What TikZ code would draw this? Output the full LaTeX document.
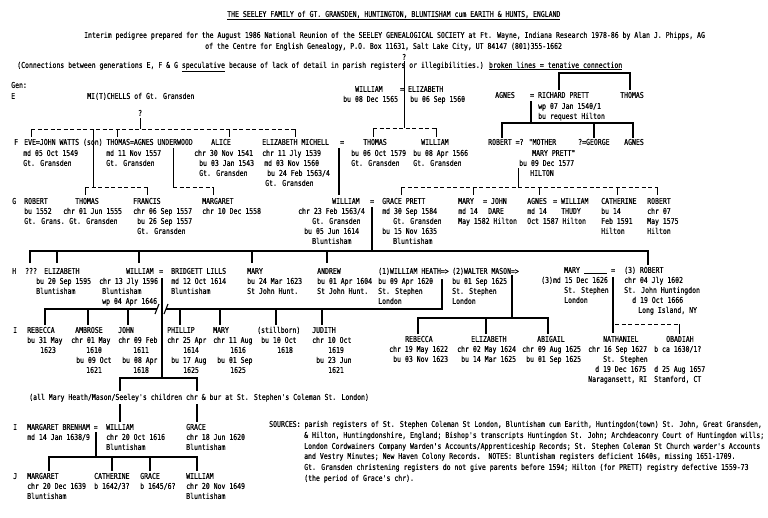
\documentclass[tikz,border=0pt]{standalone}
\usepackage{fontspec}
\newfontfamily\mono[FakeStretch=0.814,FakeBold=0.35]{DejaVu Sans Mono}
\newcount\tcnt
\def\Tx(#1,#2)#3{\global\advance\tcnt by 1\relax\node[tx] (t\the\tcnt) at (#1,#2) {#3};}
\begin{document}
\begin{tikzpicture}[x=1pt,y=-1pt,
  tx/.style={font=\mono\fontsize{8}{9}\selectfont, inner sep=0pt, anchor=west, text height=5.8pt, text depth=0pt},
  thk/.style={line width=2.4pt},
  thinl/.style={line width=0.8pt},
  dsh/.style={line width=0.8pt, dash pattern=on 4pt off 2.5pt},
  slash/.style={line width=1.1pt}]
\path[fill=white] (0,0) rectangle (768,517);
\useasboundingbox (0,0) rectangle (768,517);
% ---------------- header
\Tx(227,14){\underline{THE SEELEY FAMILY of GT. GRANSDEN, HUNTINGTON, BLUNTISHAM cum EARITH \& HUNTS, ENGLAND}}
\Tx(84,35){Interim pedigree prepared for the August 1986 National Reunion of the SEELEY GENEALOGICAL SOCIETY at Ft. Wayne, Indiana Research 1978-86 by Alan J. Phipps, AG}
\Tx(205,46){of the Centre for English Genealogy, P.O. Box 11631, Salt Lake City, UT 84147 (801)355-1662}
\Tx(17,65){(Connections between generations E, F \& G \underline{speculative} because of lack of detail in parish registers or illegibilities.) \underline{broken lines = tenative connection}}
% ---------------- E
\Tx(11,85){Gen:}
\Tx(11,96){E}
\Tx(87,96){MI(T)CHELLS of Gt. Gransden}
\Tx(138,113){?}
\Tx(402,57){?}
\Tx(355,89){WILLIAM}
\Tx(400,89){= ELIZABETH}
\Tx(343,99){bu 08 Dec 1565}
\Tx(410,99){bu 06 Sep 1560}
\Tx(495,95){AGNES}
\Tx(530,95){= RICHARD PRETT}
\Tx(538,106){wp 07 Jan 1540/1}
\Tx(538,116){bu request Hilton}
\Tx(620,95){THOMAS}
% ---------------- F
\Tx(14,142){F}
\Tx(24,142){EVE=JOHN WATTS (son) THOMAS=AGNES UNDERWOOD}
\Tx(23,153){md 05 Oct 1549}
\Tx(23,163){Gt. Gransden}
\Tx(106,153){md 11 Nov 1557}
\Tx(106,163){Gt. Gransden}
\Tx(211,142){ALICE}
\Tx(194,153){chr 30 Nov 1541}
\Tx(199,163){bu 03 Jan 1543}
\Tx(199,173){Gt. Gransden}
\Tx(262,142){ELIZABETH MICHELL}
\Tx(262,153){chr 11 Jly 1539}
\Tx(264,163){md 03 Nov 1560}
\Tx(267,173){bu 24 Feb 1563/4}
\Tx(265,183){Gt. Gransden}
\Tx(340,142){=}
\Tx(363,142){THOMAS}
\Tx(351,153){bu 06 Oct 1579}
\Tx(351,163){Gt. Gransden}
\Tx(421,142){WILLIAM}
\Tx(413,153){bu 08 Apr 1566}
\Tx(413,163){Gt. Gransden}
\Tx(488,142){ROBERT =? "MOTHER}
\Tx(532,153){MARY PRETT"}
\Tx(519,163){bu 09 Dec 1577}
\Tx(530,173){HILTON}
\Tx(578,142){?=GEORGE}
\Tx(624,142){AGNES}
% ---------------- G
\Tx(12,201){G}
\Tx(24,201){ROBERT}
\Tx(24,211){bu 1552}
\Tx(24,221){Gt. Grans.}
\Tx(75,201){THOMAS}
\Tx(63,211){chr 01 Jun 1555}
\Tx(69,221){Gt. Gransden}
\Tx(133,201){FRANCIS}
\Tx(133,211){chr 06 Sep 1557}
\Tx(137,221){bu 26 Sep 1557}
\Tx(137,231){Gt. Gransden}
\Tx(202,201){MARGARET}
\Tx(202,211){chr 10 Dec 1558}
\Tx(332,201){WILLIAM}
\Tx(370,201){=}
\Tx(382,201){GRACE PRETT}
\Tx(298,211){chr 23 Feb 1563/4}
\Tx(312,221){Gt. Gransden}
\Tx(304,231){bu 05 Jun 1614}
\Tx(312,241){Bluntisham}
\Tx(382,211){md 30 Sep 1584}
\Tx(393,221){Gt. Gransden}
\Tx(382,231){bu 15 Nov 1635}
\Tx(393,241){Bluntisham}
\Tx(458,201){MARY}
\Tx(483,201){= JOHN}
\Tx(458,211){md 14}
\Tx(488,211){DARE}
\Tx(458,221){May 1582 Hilton}
\Tx(527,201){AGNES}
\Tx(553,201){= WILLIAM}
\Tx(527,211){md 14}
\Tx(561,211){THUDY}
\Tx(527,221){Oct 1587 Hilton}
\Tx(601,201){CATHERINE}
\Tx(601,211){bu 14}
\Tx(601,221){Feb 1591}
\Tx(601,231){Hilton}
\Tx(647,201){ROBERT}
\Tx(647,211){chr 07}
\Tx(647,221){May 1575}
\Tx(647,231){Hilton}
% ---------------- H
\Tx(12,271){H}
\Tx(25,271){???}
\Tx(44,271){ELIZABETH}
\Tx(36,281){bu 20 Sep 1595}
\Tx(36,291){Bluntisham}
\Tx(126,271){WILLIAM}
\Tx(159,271){=}
\Tx(171,271){BRIDGETT LILLS}
\Tx(99,281){chr 13 Jly 1596}
\Tx(102,291){Bluntisham}
\Tx(102,301){wp 04 Apr 1646}
\Tx(171,281){md 12 Oct 1614}
\Tx(171,291){Bluntisham}
\Tx(247,271){MARY}
\Tx(247,281){bu 24 Mar 1623}
\Tx(247,291){St John Hunt.}
\Tx(317,271){ANDREW}
\Tx(317,281){bu 01 Apr 1604}
\Tx(317,291){St John Hunt.}
\Tx(378,271){(1)WILLIAM HEATH=>}
\Tx(378,281){bu 09 Apr 1620}
\Tx(378,291){St. Stephen}
\Tx(378,301){London}
\Tx(452,271){(2)WALTER MASON=>}
\Tx(452,281){bu 01 Sep 1625}
\Tx(452,291){St. Stephen}
\Tx(452,301){London}
\Tx(564,270){MARY}
\Tx(541,280){(3)md 15 Dec 1626}
\Tx(564,290){St. Stephen}
\Tx(564,300){London}
\Tx(611,270){=}
\Tx(624,270){(3) ROBERT}
\Tx(624,280){chr 04 Jly 1602}
\Tx(624,290){St. John Huntingdon}
\Tx(632,300){d 19 Oct 1666}
\Tx(638,310){Long Island, NY}
% ---------------- I
\Tx(13,330){I}
\Tx(27,330){REBECCA}
\Tx(27,340){bu 31 May}
\Tx(40,350){1623}
\Tx(75,330){AMBROSE}
\Tx(71,340){chr 01 May}
\Tx(86,350){1610}
\Tx(76,360){bu 09 Oct}
\Tx(86,370){1621}
\Tx(118,330){JOHN}
\Tx(118,340){chr 09 Feb}
\Tx(133,350){1611}
\Tx(122,360){bu 08 Apr}
\Tx(133,370){1618}
\Tx(167,330){PHILLIP}
\Tx(167,340){chr 25 Apr}
\Tx(183,350){1614}
\Tx(171,360){bu 17 Aug}
\Tx(183,370){1625}
\Tx(213,330){MARY}
\Tx(213,340){chr 11 Aug}
\Tx(230,350){1616}
\Tx(217,360){bu 01 Sep}
\Tx(230,370){1625}
\Tx(257,330){(stillborn)}
\Tx(261,340){bu 10 Oct}
\Tx(277,350){1618}
\Tx(312,330){JUDITH}
\Tx(312,340){chr 10 Oct}
\Tx(328,350){1619}
\Tx(316,360){bu 23 Jun}
\Tx(328,370){1621}
\Tx(405,339){REBECCA}
\Tx(389,349){chr 19 May 1622}
\Tx(393,359){bu 03 Nov 1623}
\Tx(471,339){ELIZABETH}
\Tx(457,349){chr 02 May 1624}
\Tx(461,359){bu 14 Mar 1625}
\Tx(537,339){ABIGAIL}
\Tx(522,349){chr 09 Aug 1625}
\Tx(526,359){bu 01 Sep 1625}
\Tx(603,339){NATHANIEL}
\Tx(588,349){chr 16 Sep 1627}
\Tx(603,359){St. Stephen}
\Tx(595,369){d 19 Dec 1675}
\Tx(588,379){Naragansett, RI}
\Tx(666,339){OBADIAH}
\Tx(654,349){b ca 1630/1?}
\Tx(654,369){d 25 Aug 1657}
\Tx(654,379){Stamford, CT}
\Tx(29,397){(all Mary Heath/Mason/Seeley's children chr \& bur at St. Stephen's Coleman St. London)}
% ---------------- I (lower) and J
\Tx(13,427){I}
\Tx(27,427){MARGARET BRENHAM =}
\Tx(27,437){md 14 Jan 1638/9}
\Tx(106,427){WILLIAM}
\Tx(106,437){chr 20 Oct 1616}
\Tx(106,447){Bluntisham}
\Tx(186,427){GRACE}
\Tx(186,437){chr 18 Jun 1620}
\Tx(186,447){Bluntisham}
\Tx(13,476){J}
\Tx(27,476){MARGARET}
\Tx(27,486){chr 20 Dec 1639}
\Tx(27,496){Bluntisham}
\Tx(94,476){CATHERINE}
\Tx(94,486){b 1642/3?}
\Tx(140,476){GRACE}
\Tx(140,486){b 1645/6?}
\Tx(186,476){WILLIAM}
\Tx(186,486){chr 20 Nov 1649}
\Tx(186,496){Bluntisham}
% ---------------- sources
\Tx(269,424){SOURCES: parish registers of St. Stephen Coleman St London, Bluntisham cum Earith, Huntingdon(town) St. John, Great Gransden,}
\Tx(304,435){\& Hilton, Huntingdonshire, England; Bishop's transcripts Huntingdon St. John; Archdeaconry Court of Huntingdon wills;}
\Tx(304,446){London Cordwainers Company Warden's Accounts/Apprenticeship Records; St. Stephen Coleman St Church warder's Accounts}
\Tx(304,456){and Vestry Minutes; New Haven Colony Records.\ \ NOTES: Bluntisham registers deficient 1640s, missing 1651-1709.}
\Tx(304,467){Gt. Gransden christening registers do not give parents before 1594; Hilton (for PRETT) registry defective 1559-73}
\Tx(304,478){(the period of Grace's chr).}
% ---------------- connectors: Mitchells
\draw[thinl] (140,118) -- (140,129);
\draw[dsh] (31,129) -- (295,129);
\foreach \xx in {31,117,229,295} \draw[thinl] (\xx,129) -- (\xx,137);
\draw[thinl] (93,129) -- (93,187);
\draw[dsh] (85,187) -- (147,187);
\foreach \xx in {85,147} \draw[thinl] (\xx,187) -- (\xx,195);
\draw[thinl] (173,148) -- (173,187);
\draw[dsh] (173,187) -- (213,187);
\draw[thinl] (213,187) -- (213,195);
% William = Elizabeth
\draw[thinl] (404,61) -- (404,128);
\draw[dsh] (373,128) -- (436,128);
\foreach \xx in {373,436} \draw[thinl] (\xx,128) -- (\xx,137);
\draw[thk] (339,148) -- (339,195);
% Prett
\draw[thk] (559,90) -- (559,73) -- (630,73) -- (630,90);
\draw[thk] (531,101) -- (531,123);
\draw[thk] (502,138) -- (502,123) -- (633,123) -- (633,138);
\draw[thk] (594,123) -- (594,138);
\draw[thinl] (518,168) -- (518,187);
\draw[dsh] (401,187) -- (657,187);
\foreach \xx in {401,473,539,617,657} \draw[thinl] (\xx,187) -- (\xx,195);
% William = Grace
\draw[thk] (372,207) -- (372,251);
\draw[thk] (30,263) -- (30,251) -- (648,251) -- (648,265);
\foreach \xx in {57,139,252,327} \draw[thk] (\xx,251) -- (\xx,263);
% William = Bridgett, Heath
\draw[thk] (162,278) -- (162,378);
\draw[thk] (45,325) -- (45,309) -- (157,309);
\draw[thk] (166,309) -- (442,309) -- (442,279);
\foreach \xx in {88,128,180,220,276,322} \draw[thk] (\xx,309) -- (\xx,325);
\draw[slash] (155,314) -- (159,304);
\draw[slash] (164,314) -- (168,304);
% Mason
\draw[thk] (512,275) -- (512,318);
\draw[thk] (418,334) -- (418,318) -- (548,318) -- (548,334);
\draw[thk] (486,318) -- (486,334);
% Mary = Robert
\draw[thinl] (584,273.5) -- (607,273.5);
\draw[thk] (613,277) -- (613,333);
\draw[dsh] (615,324) -- (679,324);
\draw[thinl] (679,324) -- (679,334);
% to William and Grace (lower)
\draw[thk] (120,391) -- (120,378) -- (197,378) -- (197,391);
\foreach \xx in {120,197} \draw[thk] (\xx,404) -- (\xx,422);
% William = Margaret
\draw[thk] (96,432) -- (96,457);
\draw[thk] (49,471) -- (49,457) -- (197,457) -- (197,471);
\foreach \xx in {112,150} \draw[thk] (\xx,457) -- (\xx,471);
\end{tikzpicture}
\end{document}
